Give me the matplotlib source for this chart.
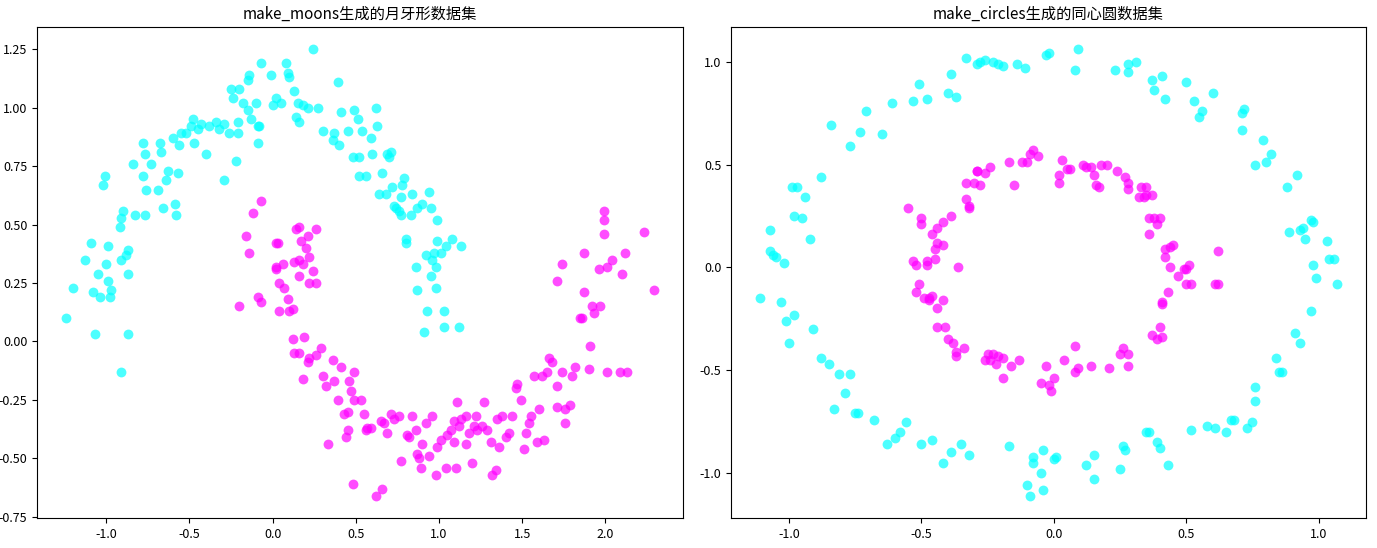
import matplotlib
matplotlib.use("Agg")
import matplotlib.pyplot as plt
import numpy as np

plt.rcParams['font.family'] = ['Noto Sans CJK SC', 'DejaVu Sans']
plt.rcParams['axes.unicode_minus'] = False

moons_c0_x = [-1.24,-1.20,-1.13,-1.09,-1.07,-1.08,-1.05,-1.04,-1.02,-1.01,-0.99,-1.00,-0.99,-0.98,-0.97,-0.91,-0.92,-0.91,-0.91,-0.90,-0.88,-0.87,-0.87,-0.87,-0.84,-0.83,-0.78,-0.77,-0.78,-0.77,-0.76,-0.73,-0.68,-0.67,-0.69,-0.66,-0.64,-0.63,-0.60,-0.59,-0.58,-0.57,-0.56,-0.55,-0.52,-0.49,-0.48,-0.47,-0.45,-0.43,-0.40,-0.38,-0.34,-0.32,-0.29,-0.29,-0.26,-0.25,-0.24,-0.22,-0.21,-0.21,-0.20,-0.18,-0.15,-0.15,-0.14,-0.13,-0.10,-0.09,-0.09,-0.08,-0.07,-0.01,0.00,0.02,0.05,0.08,0.09,0.10,0.13,0.14,0.15,0.16,0.18,0.21,0.24,0.27,0.30,0.36,0.37,0.39,0.40,0.41,0.45,0.48,0.49,0.51,0.52,0.52,0.54,0.56,0.59,0.60,0.62,0.63,0.64,0.66,0.69,0.70,0.71,0.68,0.72,0.73,0.74,0.76,0.77,0.77,0.78,0.79,0.80,0.80,0.83,0.84,0.87,0.86,0.87,0.90,0.91,0.92,0.94,0.93,0.95,0.95,0.96,0.97,0.98,0.98,0.99,0.99,1.01,1.03,1.03,1.04,1.08,1.12,1.13]
moons_c0_y = [0.10,0.23,0.35,0.42,0.03,0.21,0.29,0.19,0.67,0.71,0.41,0.33,0.26,0.19,0.22,-0.13,0.49,0.35,0.53,0.56,0.37,0.39,0.03,0.29,0.76,0.54,0.85,0.80,0.71,0.54,0.65,0.76,0.85,0.81,0.65,0.57,0.69,0.73,0.87,0.59,0.54,0.72,0.84,0.89,0.89,0.92,0.95,0.85,0.91,0.93,0.80,0.92,0.94,0.91,0.93,0.69,0.89,1.08,1.04,0.77,0.89,0.94,1.08,1.02,1.12,0.99,1.14,0.95,1.02,0.92,0.85,0.92,1.19,1.14,1.01,1.04,1.02,1.19,1.15,1.13,1.07,0.96,1.02,0.94,1.01,1.00,1.25,1.00,0.90,0.86,0.89,1.11,0.84,0.98,0.90,0.79,0.99,0.95,0.71,0.79,0.90,0.71,0.87,0.80,1.00,0.92,0.63,0.72,0.80,0.79,0.81,0.63,0.66,0.58,0.57,0.56,0.62,0.54,0.67,0.70,0.44,0.42,0.54,0.63,0.57,0.32,0.22,0.59,0.04,0.37,0.64,0.13,0.28,0.57,0.35,0.38,0.32,0.23,0.52,0.43,0.38,0.06,0.13,0.41,0.44,0.06,0.41]

moons_c1_x = [-0.20,-0.16,-0.14,-0.12,-0.07,-0.09,-0.07,0.02,0.02,0.02,0.03,0.04,0.04,0.06,0.07,0.09,0.10,0.12,0.13,0.14,0.16,0.16,0.17,0.16,0.18,0.20,0.21,0.22,0.26,0.22,0.24,0.26,0.12,0.13,0.16,0.18,0.19,0.21,0.22,0.26,0.29,0.30,0.32,0.33,0.36,0.37,0.39,0.41,0.43,0.44,0.45,0.45,0.46,0.47,0.49,0.49,0.53,0.55,0.56,0.57,0.59,0.48,0.62,0.65,0.66,0.67,0.69,0.71,0.73,0.76,0.77,0.81,0.82,0.84,0.86,0.87,0.88,0.89,0.90,0.92,0.94,0.96,0.98,0.99,1.01,1.04,1.05,1.07,1.09,1.09,1.10,1.11,1.12,1.13,1.16,1.16,1.18,1.20,1.21,1.22,1.23,1.26,1.27,1.29,1.31,1.32,1.34,1.35,1.36,1.38,1.40,1.42,1.44,1.46,1.47,1.49,1.51,1.52,1.54,1.55,1.57,1.59,1.60,1.62,1.63,1.65,1.66,1.68,1.71,1.71,1.74,1.76,1.76,1.79,1.80,1.82,1.71,1.74,1.85,1.86,1.87,1.87,1.90,1.91,1.92,1.93,1.96,1.97,1.99,1.99,1.99,2.01,2.01,2.04,2.09,2.10,2.12,2.13,2.23,2.29]
moons_c1_y = [0.15,0.45,0.38,0.55,0.60,0.19,0.17,0.32,0.31,0.42,0.42,0.25,0.13,0.33,0.23,0.18,0.13,0.14,0.34,0.48,0.49,0.28,0.43,0.35,0.33,0.40,0.45,0.36,0.48,0.25,0.30,0.25,0.01,-0.05,-0.05,-0.16,0.02,-0.09,-0.07,-0.06,-0.03,-0.15,-0.19,-0.44,-0.08,-0.17,-0.25,-0.11,-0.31,-0.41,-0.30,-0.38,-0.17,-0.21,-0.25,-0.13,-0.25,-0.31,-0.38,-0.37,-0.37,-0.61,-0.66,-0.34,-0.63,-0.35,-0.39,-0.31,-0.33,-0.32,-0.51,-0.40,-0.41,-0.32,-0.38,-0.48,-0.50,-0.54,-0.44,-0.35,-0.49,-0.32,-0.57,-0.45,-0.42,-0.54,-0.40,-0.38,-0.34,-0.43,-0.54,-0.26,-0.36,-0.33,-0.32,-0.44,-0.39,-0.52,-0.36,-0.32,-0.38,-0.36,-0.26,-0.38,-0.43,-0.57,-0.55,-0.33,-0.45,-0.32,-0.41,-0.39,-0.32,-0.20,-0.18,-0.25,-0.46,-0.39,-0.35,-0.32,-0.15,-0.43,-0.29,-0.15,-0.42,-0.13,-0.07,-0.09,-0.19,-0.28,-0.13,-0.29,-0.35,-0.27,-0.15,-0.11,0.26,0.33,0.10,0.10,0.21,0.38,-0.12,-0.02,0.15,0.12,0.31,0.15,0.56,0.52,0.46,0.32,-0.13,0.35,-0.13,0.29,0.38,-0.13,0.47,0.22]

circ_c0_x = [-1.11,-1.07,-1.07,-1.06,-1.05,-1.03,-1.02,-1.01,-1.00,-0.99,-0.98,-0.98,-0.97,-0.95,-0.94,-0.92,-0.91,-0.88,-0.88,-0.85,-0.84,-0.83,-0.81,-0.79,-0.77,-0.77,-0.75,-0.74,-0.73,-0.71,-0.68,-0.65,-0.63,-0.61,-0.60,-0.58,-0.56,-0.53,-0.51,-0.50,-0.48,-0.46,-0.42,-0.40,-0.39,-0.39,-0.37,-0.35,-0.33,-0.32,-0.29,-0.28,-0.26,-0.23,-0.21,-0.19,-0.17,-0.14,-0.11,-0.10,-0.09,-0.08,-0.08,-0.05,-0.04,-0.04,-0.03,-0.02,0.00,0.01,0.08,0.09,0.12,0.15,0.15,0.23,0.25,0.26,0.27,0.28,0.28,0.31,0.35,0.36,0.37,0.38,0.39,0.40,0.41,0.42,0.43,0.50,0.52,0.53,0.55,0.56,0.58,0.60,0.61,0.65,0.67,0.68,0.71,0.71,0.72,0.73,0.75,0.76,0.76,0.76,0.79,0.80,0.82,0.84,0.85,0.86,0.88,0.89,0.91,0.92,0.93,0.93,0.94,0.95,0.97,0.97,0.98,0.98,0.99,1.03,1.04,1.06,1.07]
circ_c0_y = [-0.15,0.18,0.08,0.06,0.05,-0.17,0.02,-0.26,-0.37,0.39,-0.23,0.25,0.39,0.24,0.34,0.14,-0.30,0.44,-0.44,-0.47,0.69,-0.69,-0.52,-0.61,-0.52,0.59,-0.71,-0.71,0.66,0.76,-0.74,0.65,-0.86,0.80,-0.83,-0.80,-0.75,0.81,0.89,-0.86,0.82,-0.84,-0.95,0.85,0.94,-0.90,0.83,-0.86,1.02,-0.91,0.99,1.00,1.01,1.00,0.99,0.98,-0.87,0.99,0.97,-1.06,-1.11,-0.92,-0.95,-1.00,-1.08,-0.89,1.03,1.04,-0.93,-0.92,0.96,1.06,-0.96,-0.91,-1.03,0.96,-0.98,-0.87,-0.89,0.95,0.99,1.00,-0.80,-0.80,0.91,0.86,-0.85,-0.88,0.93,0.82,-0.96,0.90,-0.79,0.81,0.73,0.76,-0.77,0.85,-0.78,-0.80,-0.74,-0.74,0.67,0.75,0.77,-0.78,-0.75,-0.65,0.50,-0.58,0.62,0.51,0.55,-0.44,-0.51,-0.51,0.39,0.17,-0.32,0.45,0.18,-0.37,0.19,0.14,-0.21,0.23,0.22,0.01,-0.05,0.13,0.04,0.04,-0.08]

circ_c1_x = [-0.55,-0.53,-0.52,-0.52,-0.51,-0.50,-0.50,-0.49,-0.48,-0.48,-0.47,-0.47,-0.46,-0.46,-0.45,-0.45,-0.44,-0.44,-0.44,-0.44,-0.42,-0.42,-0.42,-0.41,-0.40,-0.39,-0.38,-0.37,-0.37,-0.34,-0.36,-0.33,-0.33,-0.32,-0.32,-0.30,-0.29,-0.29,-0.28,-0.26,-0.26,-0.25,-0.24,-0.24,-0.23,-0.22,-0.21,-0.19,-0.19,-0.17,-0.16,-0.15,-0.13,-0.12,-0.10,-0.09,-0.08,-0.06,-0.05,-0.03,-0.02,-0.01,0.00,0.02,0.02,0.03,0.04,0.05,0.06,0.08,0.08,0.09,0.11,0.12,0.14,0.14,0.15,0.16,0.17,0.18,0.20,0.21,0.24,0.25,0.26,0.27,0.28,0.28,0.28,0.28,0.32,0.33,0.34,0.35,0.35,0.36,0.36,0.37,0.37,0.38,0.39,0.39,0.40,0.41,0.40,0.41,0.41,0.42,0.42,0.43,0.44,0.44,0.45,0.47,0.49,0.50,0.50,0.51,0.52,0.61,0.62,0.62]
circ_c1_y = [0.29,0.03,-0.12,0.01,-0.08,0.21,0.24,-0.15,0.01,0.03,-0.15,-0.16,-0.14,0.16,0.04,0.09,0.12,-0.29,0.19,-0.20,0.22,0.11,-0.16,-0.29,-0.35,0.25,-0.37,-0.41,-0.43,-0.39,0.00,0.33,0.41,0.30,0.29,0.41,0.47,0.47,0.40,0.46,-0.45,-0.42,-0.45,0.49,-0.42,-0.47,-0.43,-0.44,-0.54,0.51,-0.48,0.40,-0.45,0.51,0.51,0.55,0.57,0.54,-0.56,-0.48,-0.57,-0.60,-0.54,0.41,0.45,0.52,-0.45,0.48,0.48,-0.51,-0.38,-0.49,0.50,0.49,-0.48,0.49,0.45,0.40,0.39,0.50,0.50,-0.49,0.47,-0.42,-0.39,0.44,-0.42,0.38,0.41,-0.48,0.34,0.39,0.34,0.35,0.39,0.24,0.16,0.35,-0.33,0.24,-0.35,0.21,0.24,-0.34,-0.29,-0.18,-0.17,0.09,0.05,-0.12,0.00,0.10,0.11,-0.04,-0.01,-0.08,-0.01,0.01,-0.08,-0.08,-0.08,0.08]

titles = ['make_moons生成的月牙形数据集', 'make_circles生成的同心圆数据集']

fig = plt.figure(figsize=(13.77, 5.48), dpi=100)
ax1 = fig.add_axes([37/1377, 30/548, 646/1377, 491/548])
ax2 = fig.add_axes([731/1377, 30/548, 635/1377, 491/548])

cyan, magenta = (0, 1, 1), (1, 0, 1)
for ax, (x0, y0, x1, y1), t in [
    (ax1, (moons_c0_x, moons_c0_y, moons_c1_x, moons_c1_y), titles[0]),
    (ax2, (circ_c0_x, circ_c0_y, circ_c1_x, circ_c1_y), titles[1])]:
    ax.scatter(x0, y0, s=50, color=cyan, alpha=0.7, linewidths=0)
    ax.scatter(x1, y1, s=50, color=magenta, alpha=0.7, linewidths=0)
    ax.set_title(t, fontsize=11)
    ax.tick_params(labelsize=9)

fig.savefig('out.png', dpi=100)
